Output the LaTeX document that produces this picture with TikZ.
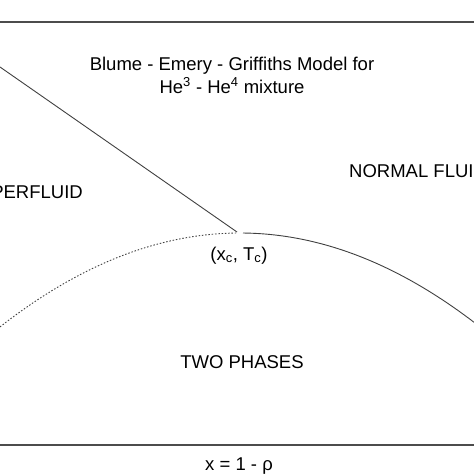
\documentclass[tikz,border=0pt]{standalone}
\usepackage{fontspec}
\setmainfont{Liberation Sans}
\usetikzlibrary{positioning}

\begin{document}
\begin{tikzpicture}[
    x=1pt, y=-1pt,
    every node/.style={inner sep=0pt, font=\fontsize{18.5}{23}\selectfont},
    frame/.style={draw=black!70, line width=1.3pt},
    boundary/.style={draw=black!75, line width=0.9pt},
    spinodal/.style={draw=black!75, line width=0.9pt, dash pattern=on 1.5pt off 1.8pt}
]
\useasboundingbox (0,0) rectangle (474,474);
\clip (0,0) rectangle (474,474);

\coordinate (topL) at (0,22);
\coordinate (topR) at (474,22);
\coordinate (botL) at (0,445);
\coordinate (botR) at (474,445);
\draw[frame] (topL) -- (topR);
\draw[frame] (botL) -- (botR);

\node[align=center] (title) at (232,75) {Blume - Emery - Griffiths Model for\\He\textsuperscript{3} - He\textsuperscript{4} mixture};

% lambda line and coexistence curve
\coordinate (lamStart) at (0,67);
\coordinate (crit) at (237,232);
\draw[boundary] (lamStart) -- (crit);
\draw[spinodal] plot[domain=0:236, samples=60] (\x, {233+93.9*((\x-240)/240)^2});
\draw[boundary] plot[domain=243:474, samples=60] (\x, {233+93.9*((\x-240)/240)^2});

\node[below=28pt of crit, anchor=base, xshift=2pt] (critlabel) {(x\textsubscript{c}, T\textsubscript{c})};

\node[anchor=base east] (superfluid) at (83,198) {SUPERFLUID};
\node[anchor=base west] (normal) at (349,177) {NORMAL FLUID};
\node[anchor=base] (twophase) at (242,368) {TWO PHASES};
\node[anchor=base] (xaxis) at (239,470) {x = 1 - ρ};
\end{tikzpicture}
\end{document}
